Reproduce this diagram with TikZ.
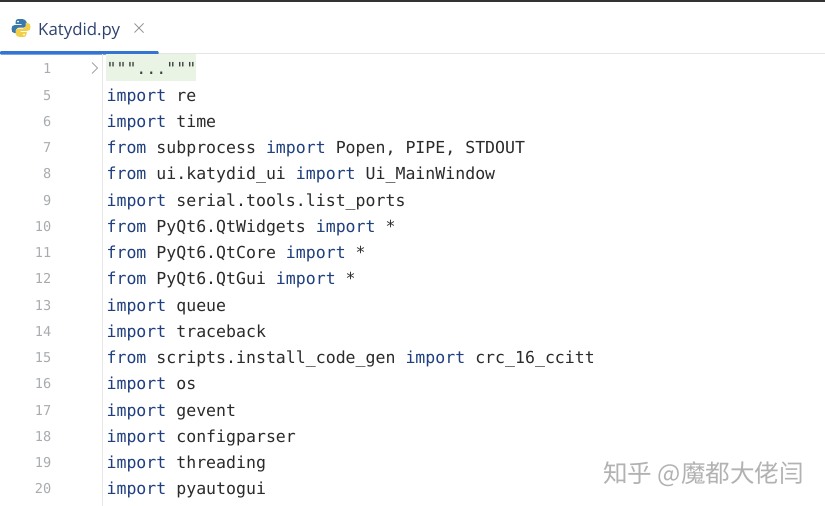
\documentclass[tikz,border=0pt]{standalone}
\usepackage{fontspec}
\setmonofont{DejaVu Sans Mono}
\setmainfont{Open Sans}
\newfontfamily\cjkfont{Noto Sans CJK SC}
\definecolor{kw}{HTML}{1F3F7F}
\definecolor{txt}{HTML}{2B2B2B}
\definecolor{num}{HTML}{A8ACB0}
\definecolor{tabtxt}{HTML}{2F4270}
\definecolor{tabblue}{HTML}{3574D0}
\definecolor{hlgreen}{HTML}{E9F4E5}
\definecolor{pyblue}{HTML}{3A78AC}
\definecolor{pyyellow}{HTML}{F2CF4A}
\newcommand{\kw}[1]{\textcolor{kw}{#1}}
\tikzset{
  codeline/.style={anchor=base west,inner sep=0pt,outer sep=0pt,text=txt,font=\ttfamily\fontsize{16.55}{18}\selectfont},
  linenum/.style={anchor=base east,inner sep=0pt,outer sep=0pt,text=num,font=\ttfamily\fontsize{13.6}{15}\selectfont},
}
\begin{document}
\begin{tikzpicture}[x=1pt,y=-1pt]
\useasboundingbox (0,0) rectangle (825,506);
\fill[white] (0,0) rectangle (825,506);
% chrome
\fill[black!80] (0,0) rectangle (825,2);
\draw[black!10,line width=0.8pt] (158,53.5) -- (825,53.5);
\fill[tabblue,rounded corners=1pt] (0,51) rectangle (158.5,54.5);
\draw[black!9,line width=1pt] (102.5,54) -- (102.5,506);
\fill[hlgreen] (106,54) rectangle (196,81);
% python logo
\begin{scope}[shift={(21,28)}]
\fill[pyblue] (-1,-9) .. controls (-5,-9) and (-5.5,-7.5) .. (-5.5,-6) -- (-5.5,-4) -- (0.5,-4) -- (0.5,-3) -- (-6,-3) .. controls (-8.5,-3) and (-9.5,-1.5) .. (-9.5,1) .. controls (-9.5,3.5) and (-8.5,5) .. (-6.5,5) -- (-4.5,5) -- (-4.5,2) .. controls (-4.5,0.5) and (-3.5,-0.5) .. (-2,-0.5) -- (3,-0.5) .. controls (4.5,-0.5) and (5.5,-1.5) .. (5.5,-3) -- (5.5,-6) .. controls (5.5,-8) and (3,-9) .. (-1,-9) -- cycle;
\fill[pyyellow] (1,9) .. controls (5,9) and (5.5,7.5) .. (5.5,6) -- (5.5,4) -- (-0.5,4) -- (-0.5,3) -- (6,3) .. controls (8.5,3) and (9.5,1.5) .. (9.5,-1) .. controls (9.5,-3.5) and (8.5,-5) .. (6.5,-5) -- (4.5,-5) -- (4.5,-2) .. controls (4.5,-0.5) and (3.5,0.5) .. (2,0.5) -- (-3,0.5) .. controls (-4.5,0.5) and (-5.5,1.5) .. (-5.5,3) -- (-5.5,6) .. controls (-5.5,8) and (-3,9) .. (1,9) -- cycle;
\fill[white] (-3,-6.5) circle (1);
\fill[white] (3,6.5) circle (1);
\end{scope}
\node[anchor=base west,inner sep=0pt,text=tabtxt,font=\fontsize{16.8}{18}\selectfont] (title) at (38,35) {Katydid.py};
\coordinate (xa) at (134.5,23.5); \coordinate (xb) at (143.5,32.5);
\coordinate (xc) at (143.5,23.5); \coordinate (xd) at (134.5,32.5);
\draw[black!40,line width=0.9pt] (xa) -- (xb) (xc) -- (xd);
\coordinate (fa) at (92,62.5); \coordinate (fb) at (97.5,68); \coordinate (fc) at (92,73.5);
\draw[black!35,line width=0.9pt] (fa) -- (fb) -- (fc);
% line numbers
\foreach \n/\y in {1/73.5,5/100.5,6/126.5,7/152.5,8/178.5,9/205.5,10/231.5,11/257.5,12/283.5,13/310.5,14/336.5,15/362.5,16/388.5,17/415.5,18/441.5,19/467.5,20/493.5}
  \node[linenum] (n\n) at (51.3,\y) {\n};
% code
\begin{scope}[shift={(-0.4,0.6)}]
\node[codeline,text=black!75] (c1) at (107,73.5) {"""..."""};
\node[codeline] (c5) at (107,100.5) {\kw{import} re};
\node[codeline] (c6) at (107,126.5) {\kw{import} time};
\node[codeline] (c7) at (107,152.5) {\kw{from} subprocess \kw{import} Popen, PIPE, STDOUT};
\node[codeline] (c8) at (107,178.5) {\kw{from} ui.katydid\_ui \kw{import} Ui\_MainWindow};
\node[codeline] (c9) at (107,205.5) {\kw{import} serial.tools.list\_ports};
\node[codeline] (c10) at (107,231.5) {\kw{from} PyQt6.QtWidgets \kw{import} *};
\node[codeline] (c11) at (107,257.5) {\kw{from} PyQt6.QtCore \kw{import} *};
\node[codeline] (c12) at (107,283.5) {\kw{from} PyQt6.QtGui \kw{import} *};
\node[codeline] (c13) at (107,310.5) {\kw{import} queue};
\node[codeline] (c14) at (107,336.5) {\kw{import} traceback};
\node[codeline] (c15) at (107,362.5) {\kw{from} scripts.install\_code\_gen \kw{import} crc\_16\_ccitt};
\node[codeline] (c16) at (107,388.5) {\kw{import} os};
\node[codeline] (c17) at (107,415.5) {\kw{import} gevent};
\node[codeline] (c18) at (107,441.5) {\kw{import} configparser};
\node[codeline] (c19) at (107,467.5) {\kw{import} threading};
\node[codeline] (c20) at (107,493.5) {\kw{import} pyautogui};
\end{scope}
% watermark
\node[anchor=base west,inner sep=0pt,text=black!30,font=\cjkfont\fontsize{24.6}{26}\selectfont] (wm) at (603,482) {知乎 @魔都大佬闫};
\end{tikzpicture}
\end{document}
